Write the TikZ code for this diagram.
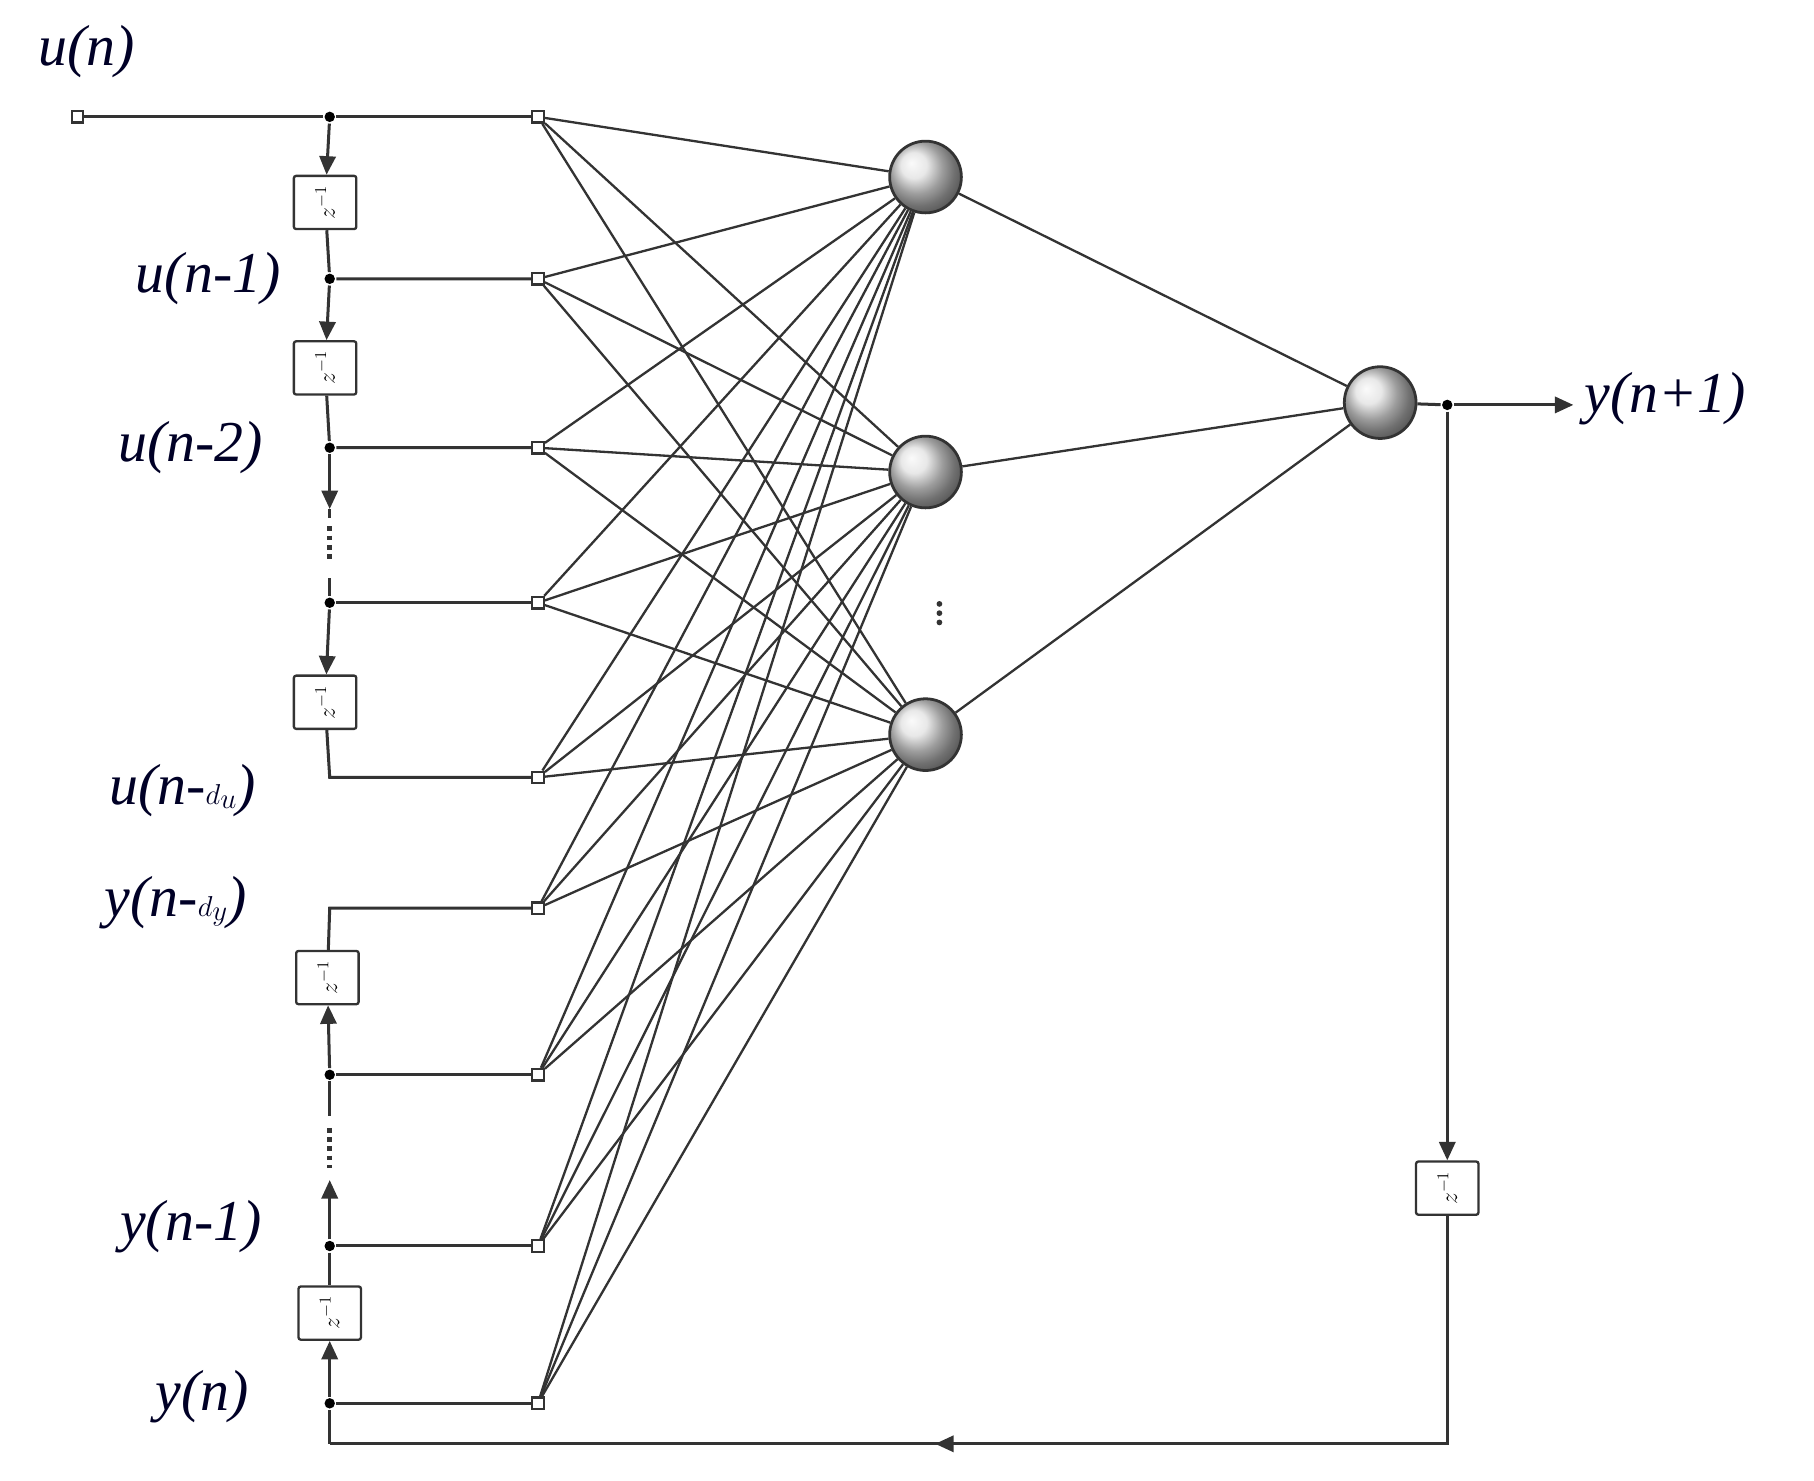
\documentclass[tikz,border=0pt]{standalone}
\usepackage{fontspec}
\setmainfont{Liberation Serif}
\usetikzlibrary{arrows.meta,decorations.markings}
\begin{document}
\begin{tikzpicture}[x=1pt,y=-1pt,line width=2.6pt,draw=black!80,
  lbl/.style={font=\fontsize{50}{54}\selectfont\itshape,text=black!85!blue},
  zbox/.style={draw,rounded corners=2pt,minimum width=54pt,minimum height=46pt,fill=white,inner sep=0pt,line width=2pt},
  inp/.style={draw,minimum size=10pt,inner sep=0pt,fill=white,line width=2pt},
  neur/.style={circle,draw,minimum size=62pt,inner sep=0pt,ball color=black!12,shading=ball,line width=2.4pt},
  dotj/.style={circle,fill=black,minimum size=9pt,inner sep=0pt},
  arr/.style={-{Triangle[length=16pt,width=14pt]}},
  cn/.style={line width=2pt}]
\useasboundingbox (0,0) rectangle (1568,1280);
\newcommand{\zt}{\rotatebox{90}{\fontsize{20}{20}\selectfont $z^{-1}$}}
% input nodes
\node[inp] (s) at (67,101) {};
\node[lbl] at (75,45) {u(n)};
\foreach \n/\y in {i1/101,i2/241,i3/387,i4/521,i5/672,i6/785,i7/929,i8/1077,i9/1213}
  \node[inp] (\n) at (465,\y) {};
% junctions
\foreach \n/\y in {j1/101,j2/241,j3/387,j4/521,j7/929,j8/1077,j9/1213}
  \node[dotj] (\n) at (285,\y) {};
\coordinate (c5) at (285,672); \coordinate (c6) at (285,785);
\coordinate (b0) at (285,1248);
% z boxes
\node[zbox] (z1) at (281,175) {\zt};
\node[zbox] (z2) at (281,318) {\zt};
\node[zbox] (z3) at (281,607) {\zt};
\node[zbox] (z6) at (283,845) {\zt};
\node[zbox] (z8) at (285,1135) {\zt};
\node[zbox] (zo) at (1251,1027) {\zt};
% labels
\node[lbl] at (180,241) {u(n-1)};
\node[lbl] at (165,387) {u(n-2)};
\node[lbl] at (158,683) {u(n-$d_u$)};
\node[lbl] at (152,780) {y(n-$d_y$)};
\node[lbl] at (165,1060) {y(n-1)};
\node[lbl] at (175,1207) {y(n)};
% left bus
\draw (s) -- (j1) -- (i1);
\draw[arr] (j1) -- (z1);
\draw (z1) -- (j2) -- (i2);
\draw[arr] (j2) -- (z2);
\draw (z2) -- (j3) -- (i3);
\draw[arr] (j3) -- (285,440);
\draw (285,440) -- (285,448);
\draw[line width=4pt,dash pattern=on 4pt off 4pt] (285,455) -- (285,485);
\draw (285,500) -- (j4) -- (i4);
\draw[arr] (j4) -- (z3);
\draw (z3) -- (c5) -- (i5);
\draw (i6) -- (c6) -- (z6);
\draw[arr] (j7) -- (z6);
\draw (j7) -- (i7);
\draw (j7) -- (285,965);
\draw[line width=4pt,dash pattern=on 4pt off 4pt] (285,975) -- (285,1010);
\draw[arr] (j8) -- (285,1020);
\draw (j8) -- (i8);
\draw (j8) -- (z8);
\draw[arr] (j9) -- (z8);
\draw (j9) -- (i9);
% neurons
\node[neur] (h1) at (800,153) {};
\node[neur] (h2) at (800,408) {};
\node[neur] (h3) at (800,635) {};
\node[neur] (o) at (1193,348) {};
\foreach \yy in {522,530,538} \fill[black!80] (812,\yy) circle (2.5pt);
\foreach \i in {i1,i2,i3,i4,i5,i6,i7,i8,i9}
  \foreach \h in {h1,h2,h3}
    \draw[cn] (\i) -- (\h);
\foreach \h in {h1,h2,h3} \draw[cn] (\h) -- (o);
% output
\node[dotj] (jo) at (1251,350) {};
\node[lbl,anchor=west] (yo) at (1365,345) {y(n+1)};
\draw (o) -- (jo);
\draw[arr] (jo) -- (1360,350);
\draw[arr] (jo) -- (zo);
\coordinate (br) at (1251,1248);
\draw[postaction={decorate},decoration={markings,mark=at position 0.55 with {\arrow{Triangle[length=16pt,width=14pt]}}}] (zo) -- (br) -- (b0);
\draw (b0) -- (j9);
\end{tikzpicture}
\end{document}
